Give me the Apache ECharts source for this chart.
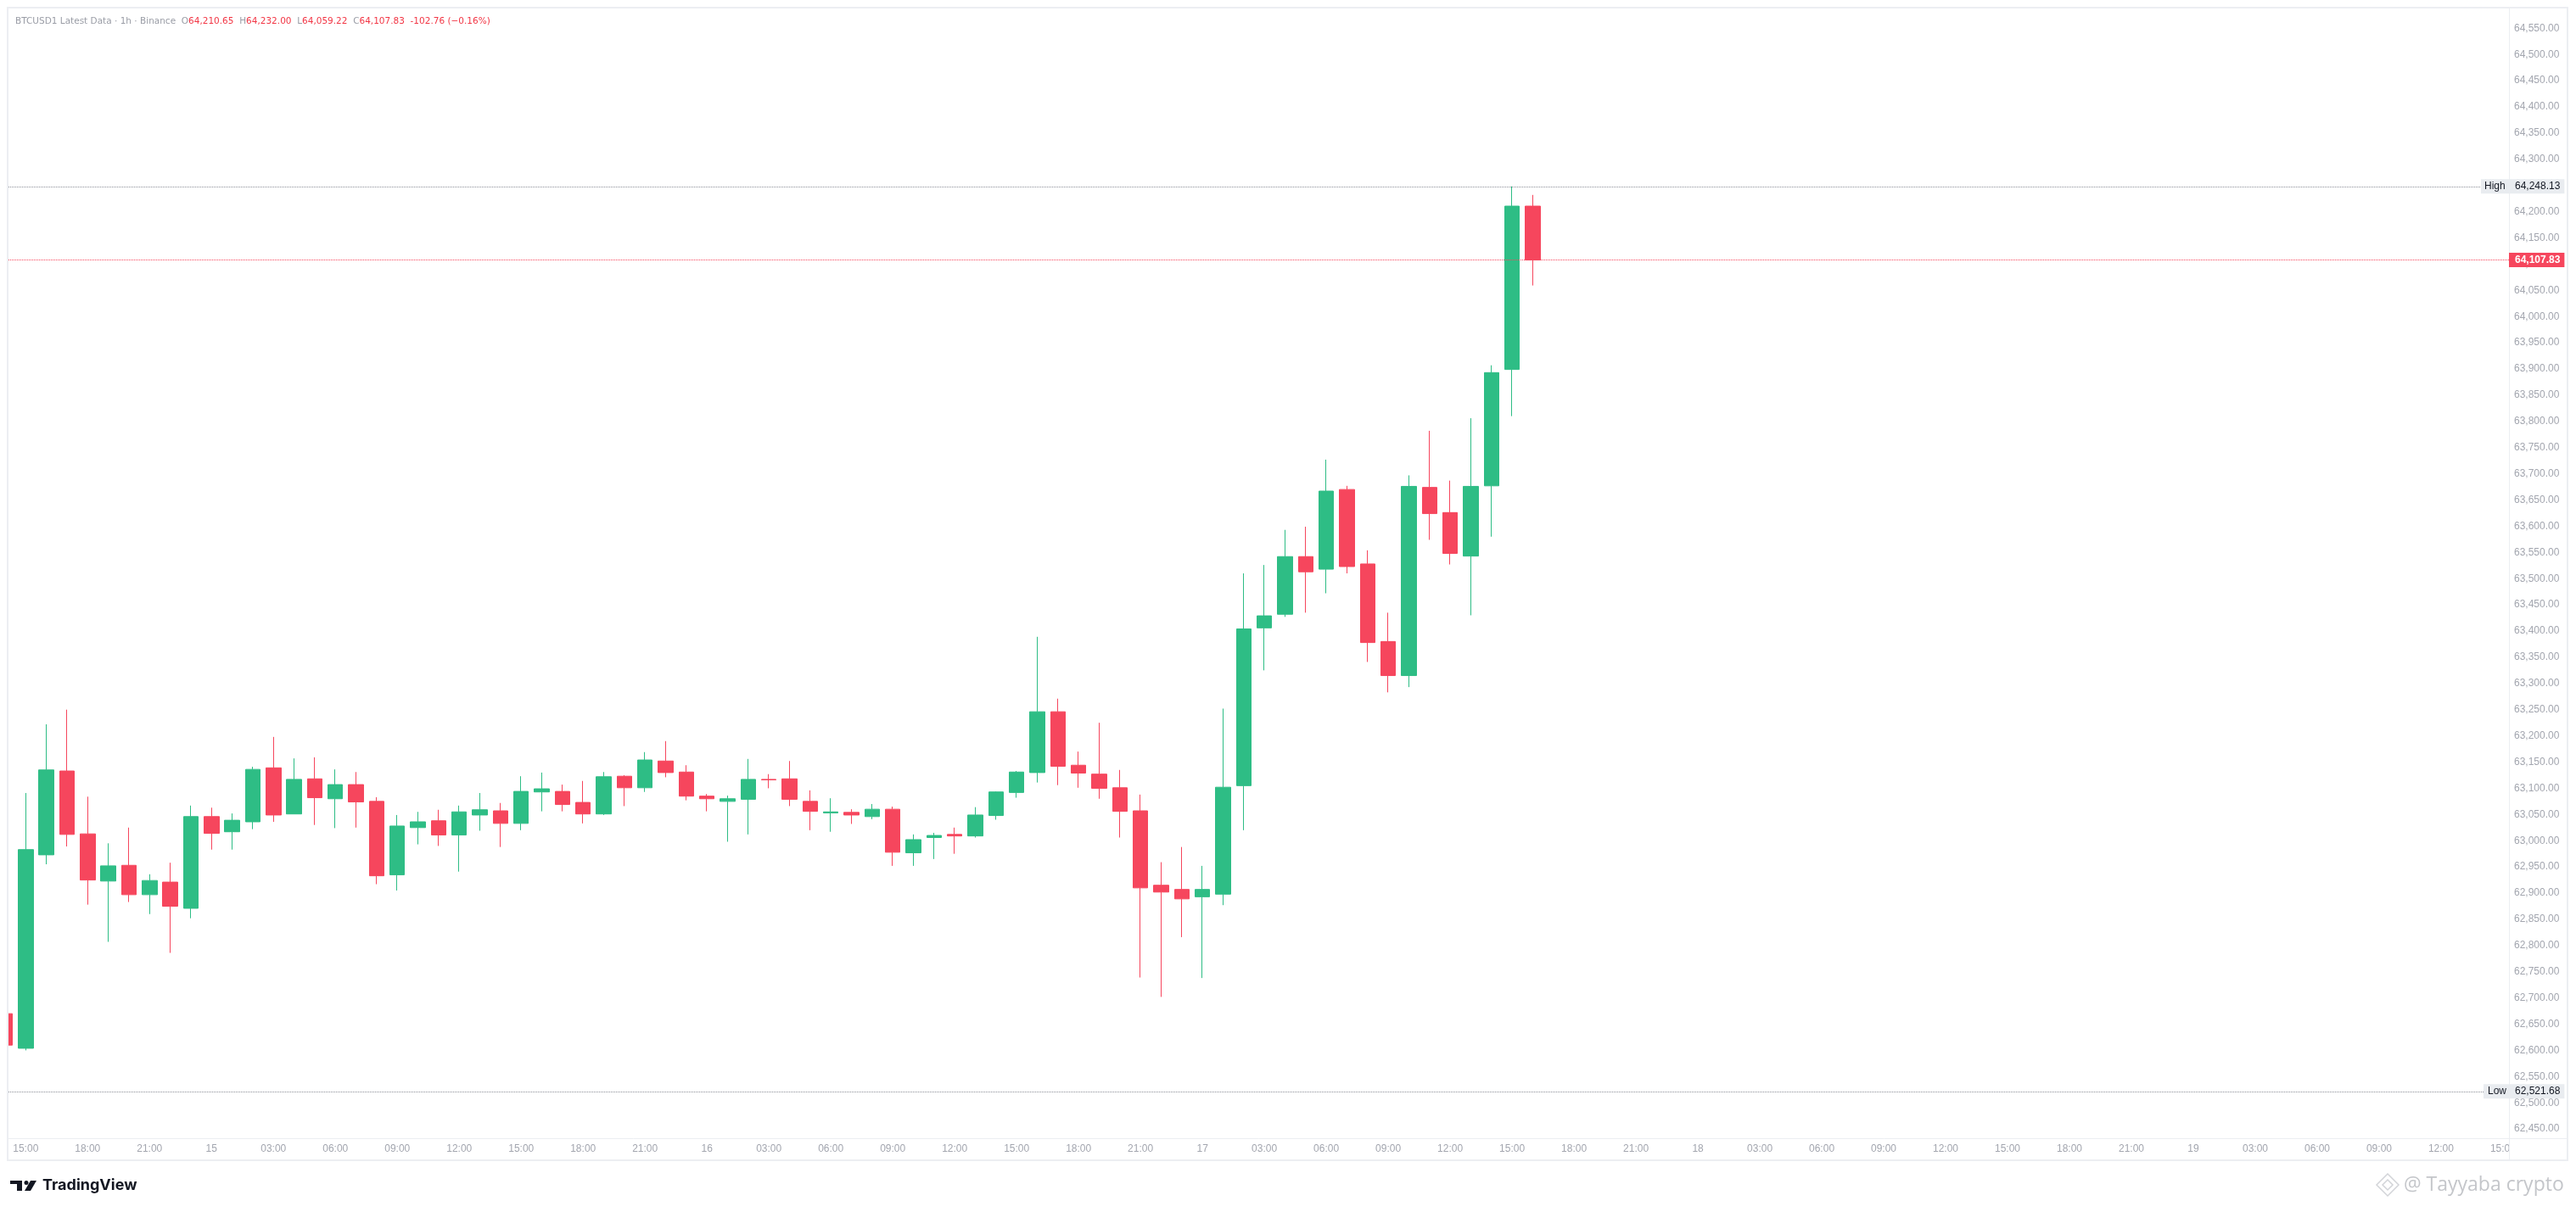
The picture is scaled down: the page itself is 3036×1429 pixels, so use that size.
<!DOCTYPE html>
<html><head><meta charset="utf-8">
<script src="https://cdn.jsdelivr.net/npm/echarts@6/dist/echarts.min.js"></script>
<style>html,body{margin:0;padding:0;background:#fff;}#c{width:3036px;height:1429px;}</style>
</head><body><div id="c"></div>
<script>
// ---- data (hourly candles, BTCUSD1, Binance) ----
const times = ['14 14:00','14 15:00','14 16:00','14 17:00','14 18:00','14 19:00','14 20:00','14 21:00','14 22:00','14 23:00',
 '15 00:00','15 01:00','15 02:00','15 03:00','15 04:00','15 05:00','15 06:00','15 07:00','15 08:00','15 09:00','15 10:00','15 11:00',
 '15 12:00','15 13:00','15 14:00','15 15:00','15 16:00','15 17:00','15 18:00','15 19:00','15 20:00','15 21:00','15 22:00','15 23:00',
 '16 00:00','16 01:00','16 02:00','16 03:00','16 04:00','16 05:00','16 06:00','16 07:00','16 08:00','16 09:00','16 10:00','16 11:00',
 '16 12:00','16 13:00','16 14:00','16 15:00','16 16:00','16 17:00','16 18:00','16 19:00','16 20:00','16 21:00','16 22:00','16 23:00',
 '17 00:00','17 01:00','17 02:00','17 03:00','17 04:00','17 05:00','17 06:00','17 07:00','17 08:00','17 09:00','17 10:00','17 11:00',
 '17 12:00','17 13:00','17 14:00','17 15:00','17 16:00'];
const opens = [62670,62604,62973,63133,63013,62923,62953,62897,62921,62871,
 63046,63017,63036,63139,63051,63118,63080,63107,63075,62935,63025,63038,
 63011,63049,63057,63033,63093,63094,63073,63051,63123,63101,63152,63131,
 63085,63075,63079,63117,63118,63075,63053,63054,63046,63060,62977,63006,
 63012,63009,63048,63092,63130,63246,63144,63127,63101,63057,62915,62907,
 62893,62898,63105,63406,63432,63542,63518,63670,63528,63380,63315,63674,
 63626,63543,63677,63899,64210.65];
const closes = [62610,62983,63135,63012,62925,62952,62897,62924,62875,63046,
 63014,63039,63136,63049,63117,63082,63107,63074,62933,63028,63036,63011,
 63055,63059,63033,63094,63099,63069,63051,63122,63101,63154,63130,63085,
 63080,63080,63117,63116,63079,63056,63055,63049,63060,62978,63002,63010,
 63009,63049,63093,63131,63246,63142,63129,63100,63056,62910,62902,62889,
 62907,63102,63404,63429,63542,63513,63667,63523,63378,63315,63676,63624,
 63548,63676,63893,64210.65,64107.83];
const lows = [62521.68,62600,62955,62989,62878,62807,62883,62860,62786,62852,
 62983,62983,63022,63036,63051,63030,63024,63025,62917,62905,62993,62990,
 62941,63019,62988,63020,63056,63056,63033,63049,63066,63093,63121,63077,
 63056,62998,63012,63100,63066,63020,63017,63032,63041,62952,62952,62965,
 62975,63006,63040,63082,63111,63106,63101,63080,63006,62739,62702,62816,
 62738,62877,63020,63325,63427,63435,63472,63510,63341,63283,63293,63574,
 63527,63430,63580,63810,64059.22];
const highs = [62690,63091,63222,63250,63084,62995,63025,62936,62958,63067,
 63063,63052,63141,63198,63157,63159,63136,63131,63083,63049,63055,63059,
 63067,63091,63072,63123,63130,63107,63114,63131,63125,63169,63190,63144,
 63089,63086,63156,63127,63152,63096,63081,63060,63070,63065,63012,63015,
 63025,63064,63094,63133,63389,63271,63170,63225,63135,63088,62959,62988,
 62952,63252,63510,63526,63593,63599,63727,63677,63554,63435,63697,63782,
 63687,63806,63907,64248.13,64232.00];
const xTickLabels = ['15:00','18:00','21:00','15','03:00','06:00','09:00','12:00','15:00','18:00','21:00',
 '16','03:00','06:00','09:00','12:00','15:00','18:00','21:00','17','03:00','06:00','09:00','12:00','15:00',
 '18:00','21:00','18','03:00','06:00','09:00','12:00','15:00','18:00','21:00','19','03:00','06:00','09:00','12:00','15:00'];
const priceTicks = [62450,62500,62550,62600,62650,62700,62750,62800,62850,62900,62950,63000,63050,63100,63150,
 63200,63250,63300,63350,63400,63450,63500,63550,63600,63650,63700,63750,63800,63850,63900,63950,64000,
 64050,64100,64150,64200,64250,64300,64350,64400,64450,64500,64550];
const titleText = 'BTCUSD1 Latest Data · 1h · Binance';
const ohlcNames = ['O','H','L','C'];
const ohlcValues = ['64,210.65','64,232.00','64,059.22','64,107.83'];
const changeText = '-102.76 (\u22120.16%)';

// ---- build ----
const xs = times.map((t, i) => i - 1);           // hours relative to 14 15:00
const tickXs = xTickLabels.map((s, i) => i * 3);
const data = times.map((t, i) => [xs[i], opens[i], closes[i], lows[i], highs[i]]);
const hi = Math.max(...highs), lo = Math.min(...lows), last = closes[closes.length - 1];
const fmt = v => Number(v).toLocaleString('en-US', {minimumFractionDigits: 2, maximumFractionDigits: 2});

const UP = '#2EBD85', DOWN = '#F6465D', AXC = '#a3a6af', LINEC = '#eceef2', TXT = '#131722';
const FONT = '"Liberation Sans", Arial, sans-serif';
const TFONT = '"DejaVu Sans", Verdana, sans-serif';

let title = '{g|' + titleText + '  }';
ohlcNames.forEach((n, i) => { title += '{g|' + n + '}{r|' + ohlcValues[i] + '  }'; });
title += '{r|' + changeText + '}';

const chart = echarts.init(document.getElementById('c'), null, {renderer: 'canvas'});
chart.setOption({
  animation: false,
  backgroundColor: '#ffffff',
  textStyle: {fontFamily: FONT},
  title: {
    left: 18, top: 19, padding: 0,
    text: title,
    textStyle: {fontSize: 10.5, lineHeight: 12, color: '#9a9da6', fontFamily: TFONT, fontWeight: 'normal',
      rich: {g: {fontSize: 10.5, lineHeight: 12, color: '#9a9da6', fontFamily: TFONT},
             r: {fontSize: 10.5, lineHeight: 12, color: '#F23645', fontFamily: TFONT}}}
  },
  grid: {left: 10, right: 79, top: 10, bottom: 87},
  xAxis: {
    type: 'value', min: -0.834, max: 120.29,
    axisLine: {show: true, onZero: false, lineStyle: {color: LINEC, width: 1}},
    axisTick: {show: false}, splitLine: {show: false},
    axisLabel: {customValues: tickXs, formatter: v => xTickLabels[Math.round(v / 3)],
      color: AXC, fontSize: 12, margin: 7, fontFamily: FONT, hideOverlap: false}
  },
  yAxis: {
    type: 'value', position: 'right', min: 62432.4, max: 64587.7, scale: true,
    axisLine: {show: true, onZero: false, lineStyle: {color: LINEC, width: 1}},
    axisTick: {show: false}, splitLine: {show: false},
    axisLabel: {customValues: priceTicks, formatter: fmt, color: AXC, fontSize: 12, margin: 6, align: 'left', fontFamily: FONT}
  },
  series: [{
    type: 'candlestick', data: data, barWidth: 18, clip: true,
    itemStyle: {color: UP, color0: DOWN, borderColor: UP, borderColor0: DOWN, borderWidth: 1},
    markLine: {
      silent: true, symbol: ['none', 'none'], animation: false,
      data: [
        {yAxis: hi, lineStyle: {color: '#8a8d96', type: 'dotted', width: 1},
          label: {show: true, position: 'end', distance: -33, formatter: '{n|High}{v|' + fmt(hi) + '}',
            backgroundColor: '#e9ecf0', padding: [2, 5, 2, 4], lineHeight: 13,
            rich: {n: {width: 36, fontSize: 12, color: TXT, fontFamily: FONT}, v: {fontSize: 12, color: TXT, fontFamily: FONT}}}},
        {yAxis: last, lineStyle: {color: DOWN, type: 'dotted', width: 1},
          label: {show: true, position: 'end', distance: 0, formatter: fmt(last),
            backgroundColor: DOWN, color: '#ffffff', fontWeight: 'bold', fontSize: 12, fontFamily: FONT,
            padding: [2, 5, 2, 7], lineHeight: 13}},
        {yAxis: lo, lineStyle: {color: '#8a8d96', type: 'dotted', width: 1},
          label: {show: true, position: 'end', distance: -30, formatter: '{n|Low}{v|' + fmt(lo) + '}',
            backgroundColor: '#e9ecf0', padding: [2, 5, 2, 5], lineHeight: 13,
            rich: {n: {width: 32, fontSize: 12, color: TXT, fontFamily: FONT}, v: {fontSize: 12, color: TXT, fontFamily: FONT}}}}
      ]
    }
  }],
  graphic: [
    // hide the overflow of the partially visible first candle (left of the plot edge)
    {type: 'rect', z: 100, shape: {x: 0, y: 0, width: 9, height: 1429}, style: {fill: '#ffffff'}, silent: true},
    {type: 'rect', z: 101, shape: {x: 9, y: 9, width: 3017, height: 1359}, style: {fill: 'none', stroke: LINEC, lineWidth: 2}, silent: true},
    {type: 'rect', z: 100, shape: {x: 2958, y: 1343, width: 66, height: 24}, style: {fill: '#ffffff'}, silent: true},
    {type: 'line', z: 101, shape: {x1: 2957.5, y1: 1342, x2: 2957.5, y2: 1368}, style: {stroke: LINEC, lineWidth: 1}, silent: true},
    {type: 'line', z: 101, shape: {x1: 2957, y1: 1342.5, x2: 3025, y2: 1342.5}, style: {stroke: LINEC, lineWidth: 1}, silent: true},
    // TradingView logo
    {type: 'rect', z: 100, shape: {x: 12, y: 1392, width: 14, height: 4}, style: {fill: TXT}},
    {type: 'rect', z: 100, shape: {x: 20, y: 1392, width: 6, height: 12}, style: {fill: TXT}},
    {type: 'circle', z: 100, shape: {cx: 31, cy: 1394.5, r: 2.5}, style: {fill: TXT}},
    {type: 'polygon', z: 100, shape: {points: [[36, 1392], [43, 1392], [36, 1404], [29, 1404]]}, style: {fill: TXT}},
    {type: 'text', z: 100, x: 50, y: 1398, style: {text: 'TradingView', font: 'bold 18px Inter, "Liberation Sans", sans-serif', fill: TXT, verticalAlign: 'middle'}},
    // watermark
    {type: 'polygon', z: 100, shape: {points: [[2814, 1384], [2827, 1397], [2814, 1410], [2801, 1397]]}, style: {fill: 'none', stroke: '#d2d4d8', lineWidth: 1.5}},
    {type: 'polygon', z: 100, shape: {points: [[2814, 1391], [2820, 1397], [2814, 1403], [2808, 1397]]}, style: {fill: 'none', stroke: '#d2d4d8', lineWidth: 1.5}},
    {type: 'text', z: 100, x: 2833, y: 1397, style: {text: '@ Tayyaba crypto', font: '23px "Open Sans", "Liberation Sans", sans-serif', fill: '#c4c6ca', verticalAlign: 'middle'}}
  ]
});
</script></body></html>
